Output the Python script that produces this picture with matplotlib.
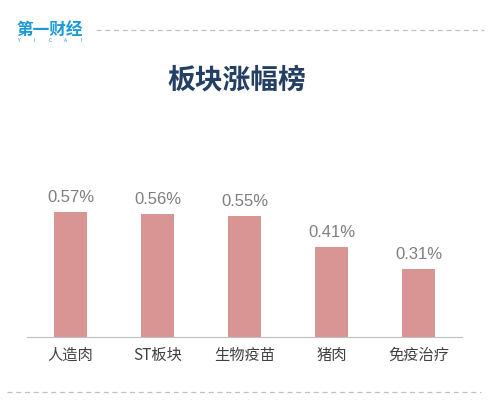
import matplotlib.pyplot as plt
from matplotlib.lines import Line2D

plt.rcParams['font.family'] = ['Noto Sans CJK SC', 'DejaVu Sans']

categories = ["人造肉", "ST板块", "生物疫苗", "猪肉", "免疫治疗"]
values = [0.57, 0.56, 0.55, 0.41, 0.31]
labels = ["0.57%", "0.56%", "0.55%", "0.41%", "0.31%"]

W, H = 504, 408
fig = plt.figure(figsize=(W / 100, H / 100), dpi=100)

# plot area in pixels: x 27..462, baseline at y=337
ax = fig.add_axes([27 / W, (H - 337) / H, 435 / W, 160 / H])
ax.bar(range(len(values)), values, width=0.39, color="#d99594")
ax.set_xlim(-0.5, len(values) - 0.5)
ax.set_ylim(0, 160 / 219.3)
for i, (v, t) in enumerate(zip(values, labels)):
    ax.annotate(t, (i, v), xytext=(0, 5), textcoords="offset points",
                ha="center", va="bottom", fontsize=12, color="#7f7f7f",
                family=["Liberation Sans", "DejaVu Sans"])
ax.set_xticks(range(len(values)))
ax.set_xticklabels(categories, fontsize=11, color="#404040")
ax.tick_params(axis="x", length=0, pad=7)
ax.set_yticks([])
for s in ["top", "left", "right"]:
    ax.spines[s].set_visible(False)
ax.spines["bottom"].set_color("#bfbfbf")

# title
fig.text(237 / W, 1 - 80 / H, "板块涨幅榜", ha="center", va="center",
         fontsize=20, fontweight="bold", color="#243f64")

# logo
fig.text(16 / W, 1 - 30 / H, "第一财经", ha="left", va="center",
         fontsize=12, fontweight="bold", color="#1a9ad6")
for k, ch in enumerate("YICAI"):
    fig.text((19 + k * 15.5) / W, 1 - 41 / H, ch, ha="center", va="center",
             fontsize=3.5, color="#1a9ad6")

# dashed separators
fig.add_artist(Line2D([96 / W, 484 / W], [1 - 30 / H, 1 - 30 / H],
                      color="#c0c0c0", lw=0.9, ls=(0, (4, 3))))
fig.add_artist(Line2D([7 / W, 481 / W], [1 - 392 / H, 1 - 392 / H],
                      color="#c0c0c0", lw=0.9, ls=(0, (4, 3))))

fig.savefig("out.png", dpi=100)
